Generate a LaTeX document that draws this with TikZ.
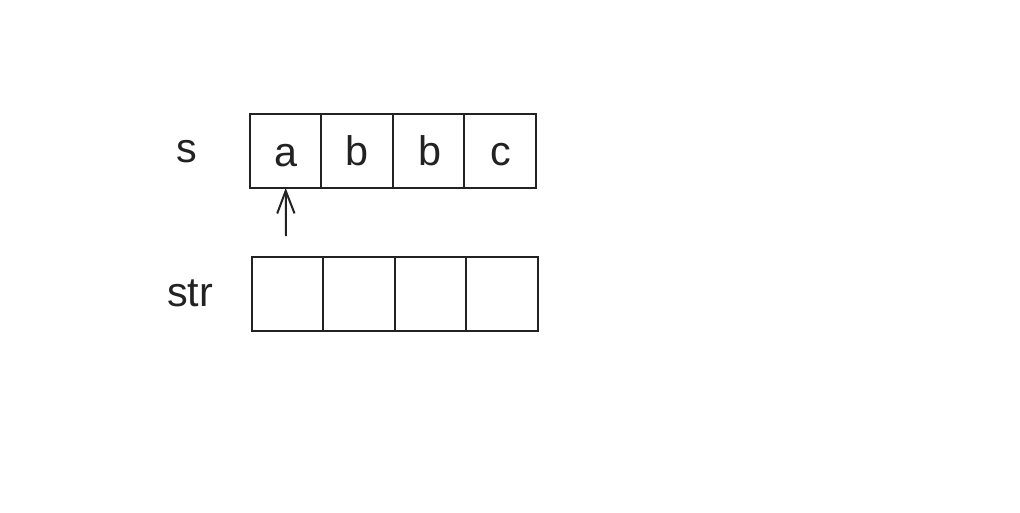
\documentclass[tikz,border=0pt]{standalone}
\usepackage{fontspec}
\setmainfont{Liberation Sans}
\usetikzlibrary{arrows.meta}
\definecolor{ink}{HTML}{222222}
\begin{document}
\begin{tikzpicture}[x=0.75pt,y=-0.75pt,
  cell/.style={draw=ink,line width=1.5pt,minimum width=53.6pt,minimum height=55.5pt,inner sep=0pt,outer sep=0pt},
  lbl/.style={anchor=base,text=ink,font=\fontsize{31}{36}\selectfont,inner sep=0pt}]
\useasboundingbox (0,0) rectangle (1020,512);
\node[cell] (s1) at (285.7,151) {};
\node[cell] (s2) at (357.2,151) {};
\node[cell] (s3) at (428.7,151) {};
\node[cell] (s4) at (500.2,151) {};
\node[cell] (t1) at (287.7,294) {};
\node[cell] (t2) at (359.2,294) {};
\node[cell] (t3) at (430.7,294) {};
\node[cell] (t4) at (502.2,294) {};
\node[lbl] (la) at (286,166) {a};
\node[lbl] (lb1) at (357,165) {b};
\node[lbl] (lb2) at (430,165) {b};
\node[lbl] (lc) at (501,165) {c};
\node[lbl] (ls) at (187,162) {s};
\node[lbl] (lstr) at (190,306) {str};
\coordinate (ptr) at (286,236);
\draw[ink,line width=1.5pt,-{Straight Barb[length=17pt,width=13pt,line width=1.5pt]}] (ptr) -- (s1.south);
\end{tikzpicture}
\end{document}
